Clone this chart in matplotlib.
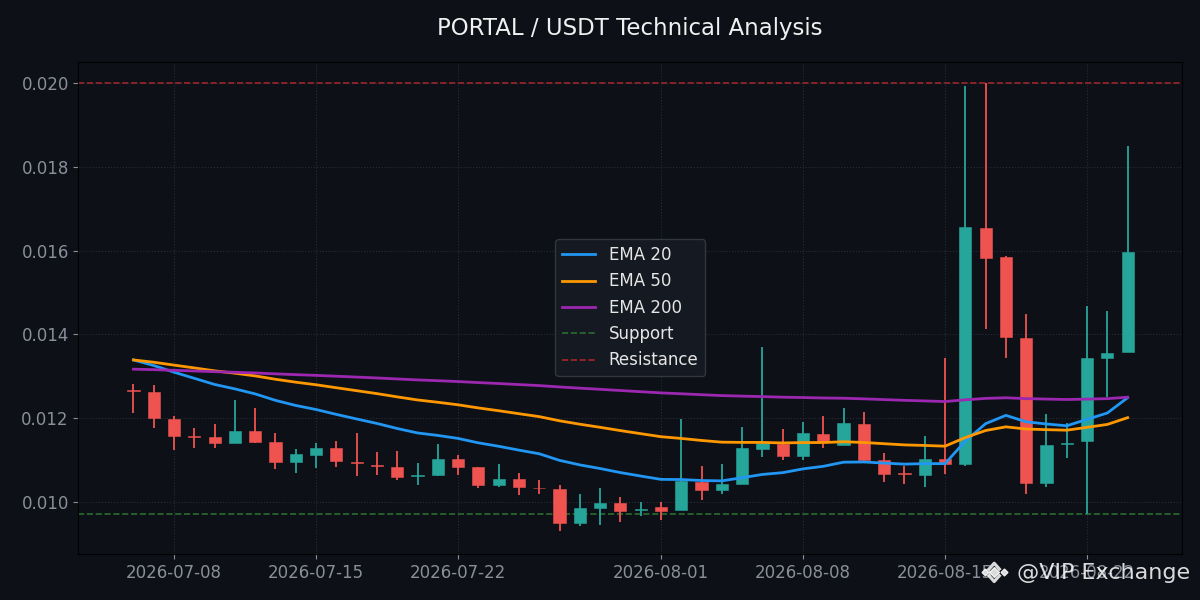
import matplotlib
matplotlib.use("Agg")
import matplotlib.pyplot as plt
import matplotlib.dates as mdates
from matplotlib.lines import Line2D
import numpy as np
import pandas as pd

# ---------------- data ----------------
start_date = "2026-07-06"
opens = [0.012665, 0.012625, 0.011981, 0.011580, 0.011551, 0.011415, 0.011695, 0.011432, 0.010962, 0.011129,
         0.011289, 0.010965, 0.010885, 0.010835, 0.010620, 0.010644, 0.011026, 0.010835, 0.010413, 0.010549,
         0.010345, 0.010310, 0.009499, 0.009857, 0.009976, 0.009810, 0.009881, 0.009809, 0.010485, 0.010287,
         0.010430, 0.011272, 0.011384, 0.011098, 0.011623, 0.011360, 0.011862, 0.011002, 0.010690, 0.010644,
         0.011026, 0.010907, 0.016539, 0.015847, 0.013914, 0.010460, 0.011390, 0.011463, 0.013444, 0.013580]
highs = [0.012816, 0.012792, 0.012053, 0.011766, 0.011862, 0.012434, 0.012244, 0.011647, 0.011265, 0.011408,
         0.011456, 0.011647, 0.011193, 0.011217, 0.010931, 0.011384, 0.011122, 0.010840, 0.010907, 0.010692,
         0.010525, 0.010406, 0.010191, 0.010334, 0.010119, 0.010000, 0.010000, 0.011981, 0.010859, 0.010907,
         0.011790, 0.013699, 0.011742, 0.011910, 0.012053, 0.012244, 0.012148, 0.011170, 0.010867, 0.011575,
         0.013437, 0.019928, 0.020007, 0.015860, 0.014487, 0.012100, 0.011886, 0.014678, 0.014559, 0.018496]
lows = [0.012124, 0.011773, 0.011248, 0.011289, 0.011296, 0.011405, 0.011415, 0.010788, 0.010700, 0.010819,
        0.010843, 0.010628, 0.010652, 0.010533, 0.010413, 0.010620, 0.010644, 0.010342, 0.010365, 0.010174,
        0.010198, 0.009308, 0.009427, 0.009459, 0.009523, 0.009673, 0.009571, 0.009800, 0.010048, 0.010191,
        0.010420, 0.011074, 0.011010, 0.011010, 0.011289, 0.011350, 0.010990, 0.010478, 0.010430, 0.010365,
        0.010668, 0.010867, 0.014136, 0.013437, 0.010191, 0.010365, 0.011058, 0.009714, 0.012513, 0.013570]
closes = [0.012640, 0.011998, 0.011582, 0.011560, 0.011415, 0.011695, 0.011439, 0.010962, 0.011146, 0.011289,
          0.010986, 0.010940, 0.010865, 0.010604, 0.010640, 0.011026, 0.010835, 0.010413, 0.010549, 0.010365,
          0.010325, 0.009499, 0.009857, 0.009976, 0.009785, 0.009830, 0.009785, 0.010501, 0.010287, 0.010430,
          0.011289, 0.011401, 0.011105, 0.011647, 0.011432, 0.011886, 0.011002, 0.010676, 0.010670, 0.011026,
          0.010907, 0.016563, 0.015831, 0.013945, 0.010460, 0.011360, 0.011410, 0.013437, 0.013556, 0.015967]

# EMA levels at the first candle (earlier history not shown)
ema_start = {20: 0.01339, 50: 0.01339, 200: 0.01317}
support = 0.00971
resistance = 0.02000

pair_title = "PORTAL / USDT Technical Analysis"
watermark = "@VIP Exchange"

# ---------------- style ----------------
BG = "#0d1017"
UP = "#26a69a"
DOWN = "#ef5350"
EMA_COLORS = {20: "#2196f3", 50: "#ff9800", 200: "#9c27b0"}
TICK_COLOR = "#8a8f98"

dates = pd.date_range(start_date, periods=len(closes), freq="D")
o = np.array(opens); h = np.array(highs); l = np.array(lows); c = np.array(closes)

def ema(values, span, first):
    a = 2.0 / (span + 1)
    out = [first]
    for v in values[1:]:
        out.append(out[-1] + a * (v - out[-1]))
    return np.array(out)

fig = plt.figure(figsize=(12, 6), dpi=100, facecolor=BG)
ax = fig.add_axes([0.0654, 0.0767, 0.9196, 0.8208])
ax.set_facecolor(BG)

up = c >= o
colors = np.where(up, UP, DOWN)
x = mdates.date2num(dates)

ax.vlines(x, l, h, colors=colors, linewidth=1.3, zorder=2)
body_bottom = np.minimum(o, c)
body_h = np.maximum(np.abs(c - o), 0.00002)
ax.bar(x, body_h, bottom=body_bottom, width=0.6, color=colors, edgecolor=colors,
       linewidth=0.4, zorder=3)

for span in (20, 50, 200):
    ax.plot(x, ema(c, span, ema_start[span]), color=EMA_COLORS[span], linewidth=2,
            label=f"EMA {span}", zorder=4)

ax.axhline(support, color="#2e7d32", linestyle="--", linewidth=1.2, alpha=0.85, label="Support", zorder=1)
ax.axhline(resistance, color="#c62828", linestyle="--", linewidth=1.2, alpha=0.85, label="Resistance", zorder=1)

ax.set_xlim(x[0] - 2.71, x[0] + 51.68)
ax.set_ylim(0.008759, 0.020513)

ax.xaxis.set_major_locator(mdates.AutoDateLocator())
ax.xaxis.set_major_formatter(mdates.DateFormatter("%Y-%m-%d"))
ax.yaxis.set_major_formatter(matplotlib.ticker.FormatStrFormatter("%.3f"))
ax.tick_params(colors=TICK_COLOR, labelsize=12, labelcolor=TICK_COLOR)
ax.grid(True, color="#3a3f4a", linestyle=":", linewidth=0.8, alpha=0.6)
for s in ax.spines.values():
    s.set_color("black")

leg = ax.legend(loc="center", fontsize=12, facecolor="#161a22", edgecolor="#343841",
                labelcolor="#e6e6e6", framealpha=0.95)

ax.set_title(pair_title, color="#f0f0f0", fontsize=16.5, pad=19)

# watermark
fig.text(0.992, 0.045, watermark, ha="right", va="center", color="white", alpha=0.85, fontsize=16)
cx, cy = 0.8285, 0.046
dx, dy = 0.0078, 0.016
for px, py, ms in [(cx, cy, 5.5), (cx - dx, cy, 3.5), (cx + dx, cy, 3.5)]:
    fig.add_artist(Line2D([px], [py], marker="D", markersize=ms, color="white", alpha=0.85,
                          transform=fig.transFigure, linestyle="none"))
for sgn in (1, -1):
    fig.add_artist(Line2D([cx - dx * 0.55, cx, cx + dx * 0.55],
                          [cy + sgn * dy * 0.35, cy + sgn * dy * 0.95, cy + sgn * dy * 0.35],
                          color="white", alpha=0.85, linewidth=2.3, transform=fig.transFigure))

fig.savefig("out.png", dpi=100, facecolor=BG)
